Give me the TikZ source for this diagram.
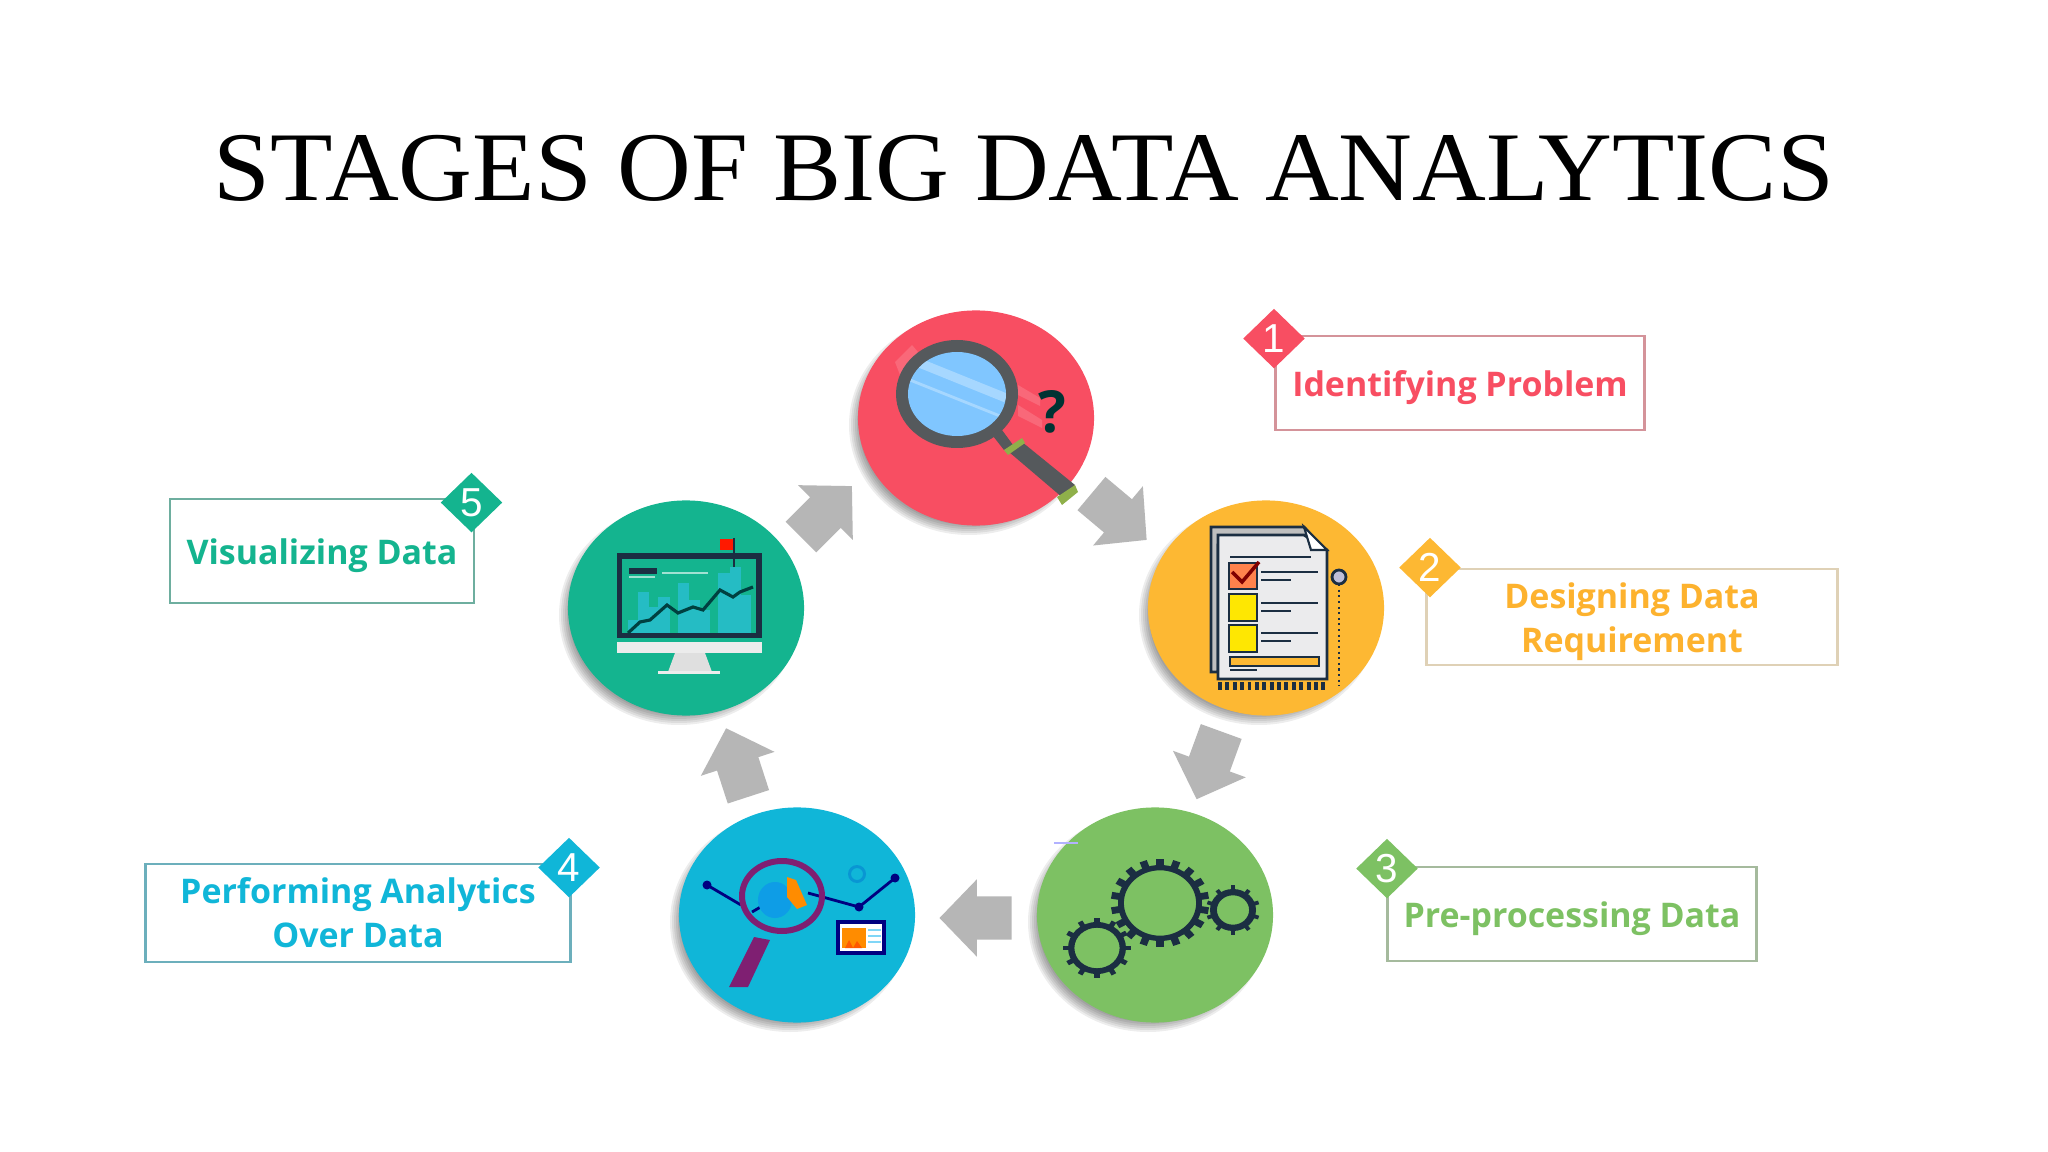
\documentclass[tikz,border=0pt]{standalone}
\usepackage{fontspec}
\usetikzlibrary{shapes.geometric,shapes.arrows,calc}
\newfontfamily\titlefont{Liberation Serif}
\newfontfamily\labelfont{Open Sans}
\newfontfamily\digitfont{Liberation Sans}
\definecolor{stagered}{HTML}{F84E62}
\definecolor{stageyellow}{HTML}{FDB833}
\definecolor{stagegreen}{HTML}{7DC163}
\definecolor{stageblue}{HTML}{10B6D8}
\definecolor{stageteal}{HTML}{14B48F}
\definecolor{arrowgray}{HTML}{B6B6B6}
\definecolor{inkdark}{HTML}{1B2E42}
\definecolor{lensgray}{HTML}{55595C}
\definecolor{olive}{HTML}{8FB04A}
\definecolor{plum}{HTML}{7F1F72}
\definecolor{piecolor}{HTML}{0E9DE6}
\definecolor{barcolor}{HTML}{2BBFD6}
\newcommand{\lowline}{\rule{0pt}{10pt}}
\tikzset{
	stagedisc/.style={ellipse,inner sep=0pt,minimum width=2.36cm,minimum height=2.15cm},
	stagebox/.style={draw=#1,line width=0.8pt,fill=white,inner sep=0pt,align=center,font=\labelfont\bfseries\fontsize{9.65}{12.6}\selectfont},
	badge/.style={diamond,aspect=1,inner sep=0pt,minimum width=0.62cm,minimum height=0.6cm,text=white,font=\digitfont\fontsize{11.5}{12}\selectfont},
	blockarrow/.style={single arrow,fill=arrowgray,inner xsep=0pt,inner ysep=0.21cm,minimum height=0.72cm,single arrow head extend=0.17cm,single arrow tip angle=92},
	docline/.style={inkdark,line width=0.7pt}
}
\begin{document}
\begin{tikzpicture}[x=0.01cm,y=-0.01cm]
	\useasboundingbox (0,0) rectangle (2048,1152);
	\fill[white] (0,0) rectangle (2048,1152);
	\node (title) at (1024,168) [xscale=1.038,transform shape,font=\titlefont\fontsize{28}{32}\selectfont]{STAGES OF BIG DATA ANALYTICS};

	%discs with their soft shadow
	\foreach \name/\x/\y/\col in {red/976/418/stagered, yellow/1266/608/stageyellow, green/1155/915/stagegreen, blue/797/915/stageblue, teal/686/608/stageteal}{
		\foreach \g in {0,2,...,10}{
			\fill[black,opacity=0.07] (\x-7,\y+7) ellipse [x radius=110+\g,y radius=100+\g];
		}
		\node[stagedisc,fill=\col] (\name) at (\x,\y){};
	}

	%arrows between the discs
	\node[blockarrow,rotate=-40] (arrowA) at ($(red)!0.5!(yellow)+(-10,-3)$){};
	\node[blockarrow,rotate=-110] (arrowB) at ($(yellow)!0.5!(green)+(2,-6)$){};
	\node[blockarrow,rotate=180] (arrowC) at ($(green)!0.5!(blue)+(10,3)$){};
	\node[blockarrow,rotate=108] (arrowD) at ($(blue)!0.5!(teal)+(-1,11)$){};
	\node[blockarrow,rotate=45] (arrowE) at ($(teal)!0.5!(red)+(-12,6)$){};

	%label boxes
	\node[stagebox={stagered!55!gray!70},text=stagered,minimum width=3.69cm,minimum height=0.94cm] (boxone) at (1460,383){\lowline Identifying Problem};
	\node[stagebox={stageyellow!45!gray!45},text=stageyellow!90!orange,minimum width=4.11cm,minimum height=0.96cm] (boxtwo) at (1632,617){\lowline Designing Data\\Requirement};
	\node[stagebox={stagegreen!45!gray!70},text=stagegreen,minimum width=3.69cm,minimum height=0.94cm] (boxthree) at (1572,914){\lowline Pre-processing Data};
	\node[stagebox={stageblue!50!gray!80},text=stageblue,minimum width=4.25cm,minimum height=0.98cm] (boxfour) at (358,913){Performing Analytics\\Over Data};
	\node[stagebox={stageteal!50!gray!80},text=stageteal,minimum width=3.04cm,minimum height=1.04cm] (boxfive) at (322,551){\lowline Visualizing Data};

	\node[badge,fill=stagered] (badgeone) at ($(boxone.north west)+(0,4)$){1};
	\node[badge,fill=stageyellow] (badgetwo) at ($(boxtwo.north west)+(5,0)$){2};
	\node[badge,fill=stagegreen] (badgethree) at ($(boxthree.north west)+(1,3)$){3};
	\node[badge,fill=stageblue] (badgefour) at ($(boxfour.north east)+(-3,5)$){4};
	\node[badge,fill=stageteal] (badgefive) at ($(boxfive.north east)+(-4,5)$){5};

	%magnifier
	\fill[white,opacity=0.15] (918,352) -- (900,375) -- (895,362) -- (912,345) -- cycle;
	\fill[white,opacity=0.15] (1018,385) -- (1040,398) -- (1040,406) -- (1018,395) -- cycle;
	\fill[white,opacity=0.15] (1018,405) -- (1042,420) -- (1042,428) -- (1018,416) -- cycle;
	\fill[lensgray] (1002,430) -- (1013,445) -- (1004,450) -- (993,436) -- cycle;
	\fill[lensgray] (1009,452) -- (1022,442) -- (1075,485) -- (1063,498) -- cycle;
	\fill[olive] (1004,450) -- (1022,438) -- (1025,443) -- (1008,455) -- cycle;
	\fill[olive] (1057,497) -- (1075,485) -- (1078,492) -- (1062,505) -- cycle;
	\fill[lensgray] (957,394) ellipse [x radius=61,y radius=54];
	\fill[blue!45!cyan!50!white] (957,394) ellipse [x radius=49,y radius=42];
	\begin{scope}
		\clip (957,394) ellipse [x radius=49,y radius=42];
		\draw[line width=2.6pt,white,opacity=0.3] (912,360) -- (1006,398);
		\draw[line width=0.8pt,white,opacity=0.3] (905,378) -- (1000,416);
	\end{scope}
	\node (qmark) at (1052,412) [text=teal!40!black,font=\labelfont\bfseries\fontsize{16.5}{18}\selectfont]{?};

	%document
	\draw[fill=lightgray,line width=0.8pt,draw=inkdark] (1211,672) -- (1211,527) -- (1304,527) -- (1320,545) -- (1218,545) -- (1218,672) -- cycle;
	\draw[fill=blue!5!gray!15,line width=0.8pt,draw=inkdark] (1218,679) -- (1218,535) -- (1304,535) -- (1327,550) -- (1327,679) -- cycle;
	\draw[fill=white,line width=0.6pt,draw=inkdark] (1304,527) -- (1311,550) -- (1327,550) -- cycle;
	\draw[docline] (1230,557) -- (1311,557);
	\draw[fill=orange!60!red!70!white,line width=0.8pt,draw=inkdark] (1229,563) rectangle (1257,589);
	\draw[red!50!black,line width=1pt] (1232,572) -- (1242,582) -- (1259,562);
	\foreach \y in {594,625}{
		\draw[fill=yellow!90!orange,line width=0.8pt,draw=inkdark] (1229,\y) rectangle (1257,\y+27);
	}
	\foreach \y in {572,603,633}{
		\draw[docline] (1261,\y) -- (1318,\y);
		\draw[docline] (1261,\y+8) -- (1291,\y+8);
	}
	\draw[fill=stageyellow,line width=0.7pt,draw=inkdark] (1230,657) rectangle (1319,666);
	\draw[docline] (1230,670) -- (1257,670);
	\draw[inkdark,line width=1.1pt,densely dotted] (1218,684) -- (1327,684);
	\draw[inkdark,line width=1.1pt,densely dotted] (1218,688) -- (1327,688);
	\draw[inkdark,line width=0.6pt,densely dotted] (1339,584) -- (1339,686);
	\draw[fill=blue!25!gray!40,line width=0.8pt,draw=inkdark] (1339,577) circle (7);

	%gears
	\foreach \x/\y/\rx/\ry/\hole/\gs in {1160/903/42/38/0.86/20, 1097/948/29/26/0.78/30, 1233/910/23/21/0.7/36}{
		\begin{scope}[shift={(\x,\y)},xscale=\rx,yscale=\ry]
			\foreach \a in {0,\gs,...,359}{
				\fill[inkdark,rotate=\a] (-0.09,0.9) rectangle (0.09,1.17);
			}
			\fill[inkdark,even odd rule] (0,0) circle (1) (0,0) circle (\hole);
		\end{scope}
	}
	\draw[blue!30!white,line width=0.7pt] (1054,843) -- (1078,843);

	%chart under lens
	\fill[blue!50!cyan!80!black,opacity=0.4,even odd rule] (857,874) circle (9) (857,874) circle (6);
	\draw[blue!50!black,line width=0.8pt] (707,885) -- (741,905);
	\draw[blue!50!black,line width=0.8pt] (752,912) -- (764,905);
	\draw[blue!50!black,line width=0.8pt] (808,893) -- (859,907) -- (895,878);
	\foreach \x/\y in {707/885,859/907,895/878}{
		\fill[blue!50!black] (\x,\y) circle (4.5);
	}
	\fill[piecolor] (775,900) ellipse [x radius=17,y radius=18];
	\fill[orange!90!yellow] (787,877) -- (796,880) -- (807,905) -- (797,909) -- (787,897) -- cycle;
	\fill[plum,even odd rule] (782,896) ellipse [x radius=43,y radius=38] (782,896) ellipse [x radius=37,y radius=32];
	\fill[plum] (754,937) -- (770,940) -- (748,987) -- (729,987) -- cycle;
	\draw[blue!50!black,line width=1pt,fill=white] (838,922) rectangle (884,953);
	\fill[orange!90!yellow] (842,928) rectangle (866,948);
	\fill[orange!70!red] (845,948) -- (849,940) -- (853,948) -- (857,941) -- (862,948) -- cycle;
	\foreach \y in {930,936,942}{
		\draw[cyan!50!white,line width=0.8pt] (868,\y) -- (881,\y);
	}

	%monitor
	\fill[inkdark] (617,553) rectangle (762,638);
	\fill[stageteal] (622,559) rectangle (756,633);
	\foreach \a/\b/\t in {628/638/620, 638/649/592, 649/658/607, 658/670/597, 678/689/583, 689/700/600, 700/710/610, 718/730/573, 730/741/567, 741/751/595}{
		\fill[barcolor,opacity=0.75] (\a,\t) rectangle (\b,633);
	}
	\draw[teal!50!black,line width=0.9pt] (628,633) -- (640,622) -- (650,620) -- (667,605) -- (678,613) -- (693,607) -- (703,610) -- (720,590) -- (733,597) -- (740,592) -- (753,587);
	\fill[inkdark] (629,568) rectangle (657,574);
	\draw[white,opacity=0.6,line width=0.3pt] (629,577) -- (655,577) (662,573) -- (708,573);
	\fill[red!80!orange] (720,539) rectangle (733,550);
	\draw[inkdark,line width=0.8pt] (734,538) -- (734,567);
	\fill[gray!15] (617,642) rectangle (762,653);
	\fill[gray!25] (675,653) -- (705,653) -- (712,672) -- (668,672) -- cycle;
	\fill[gray!15] (658,671) rectangle (720,674);
\end{tikzpicture}
\end{document}
